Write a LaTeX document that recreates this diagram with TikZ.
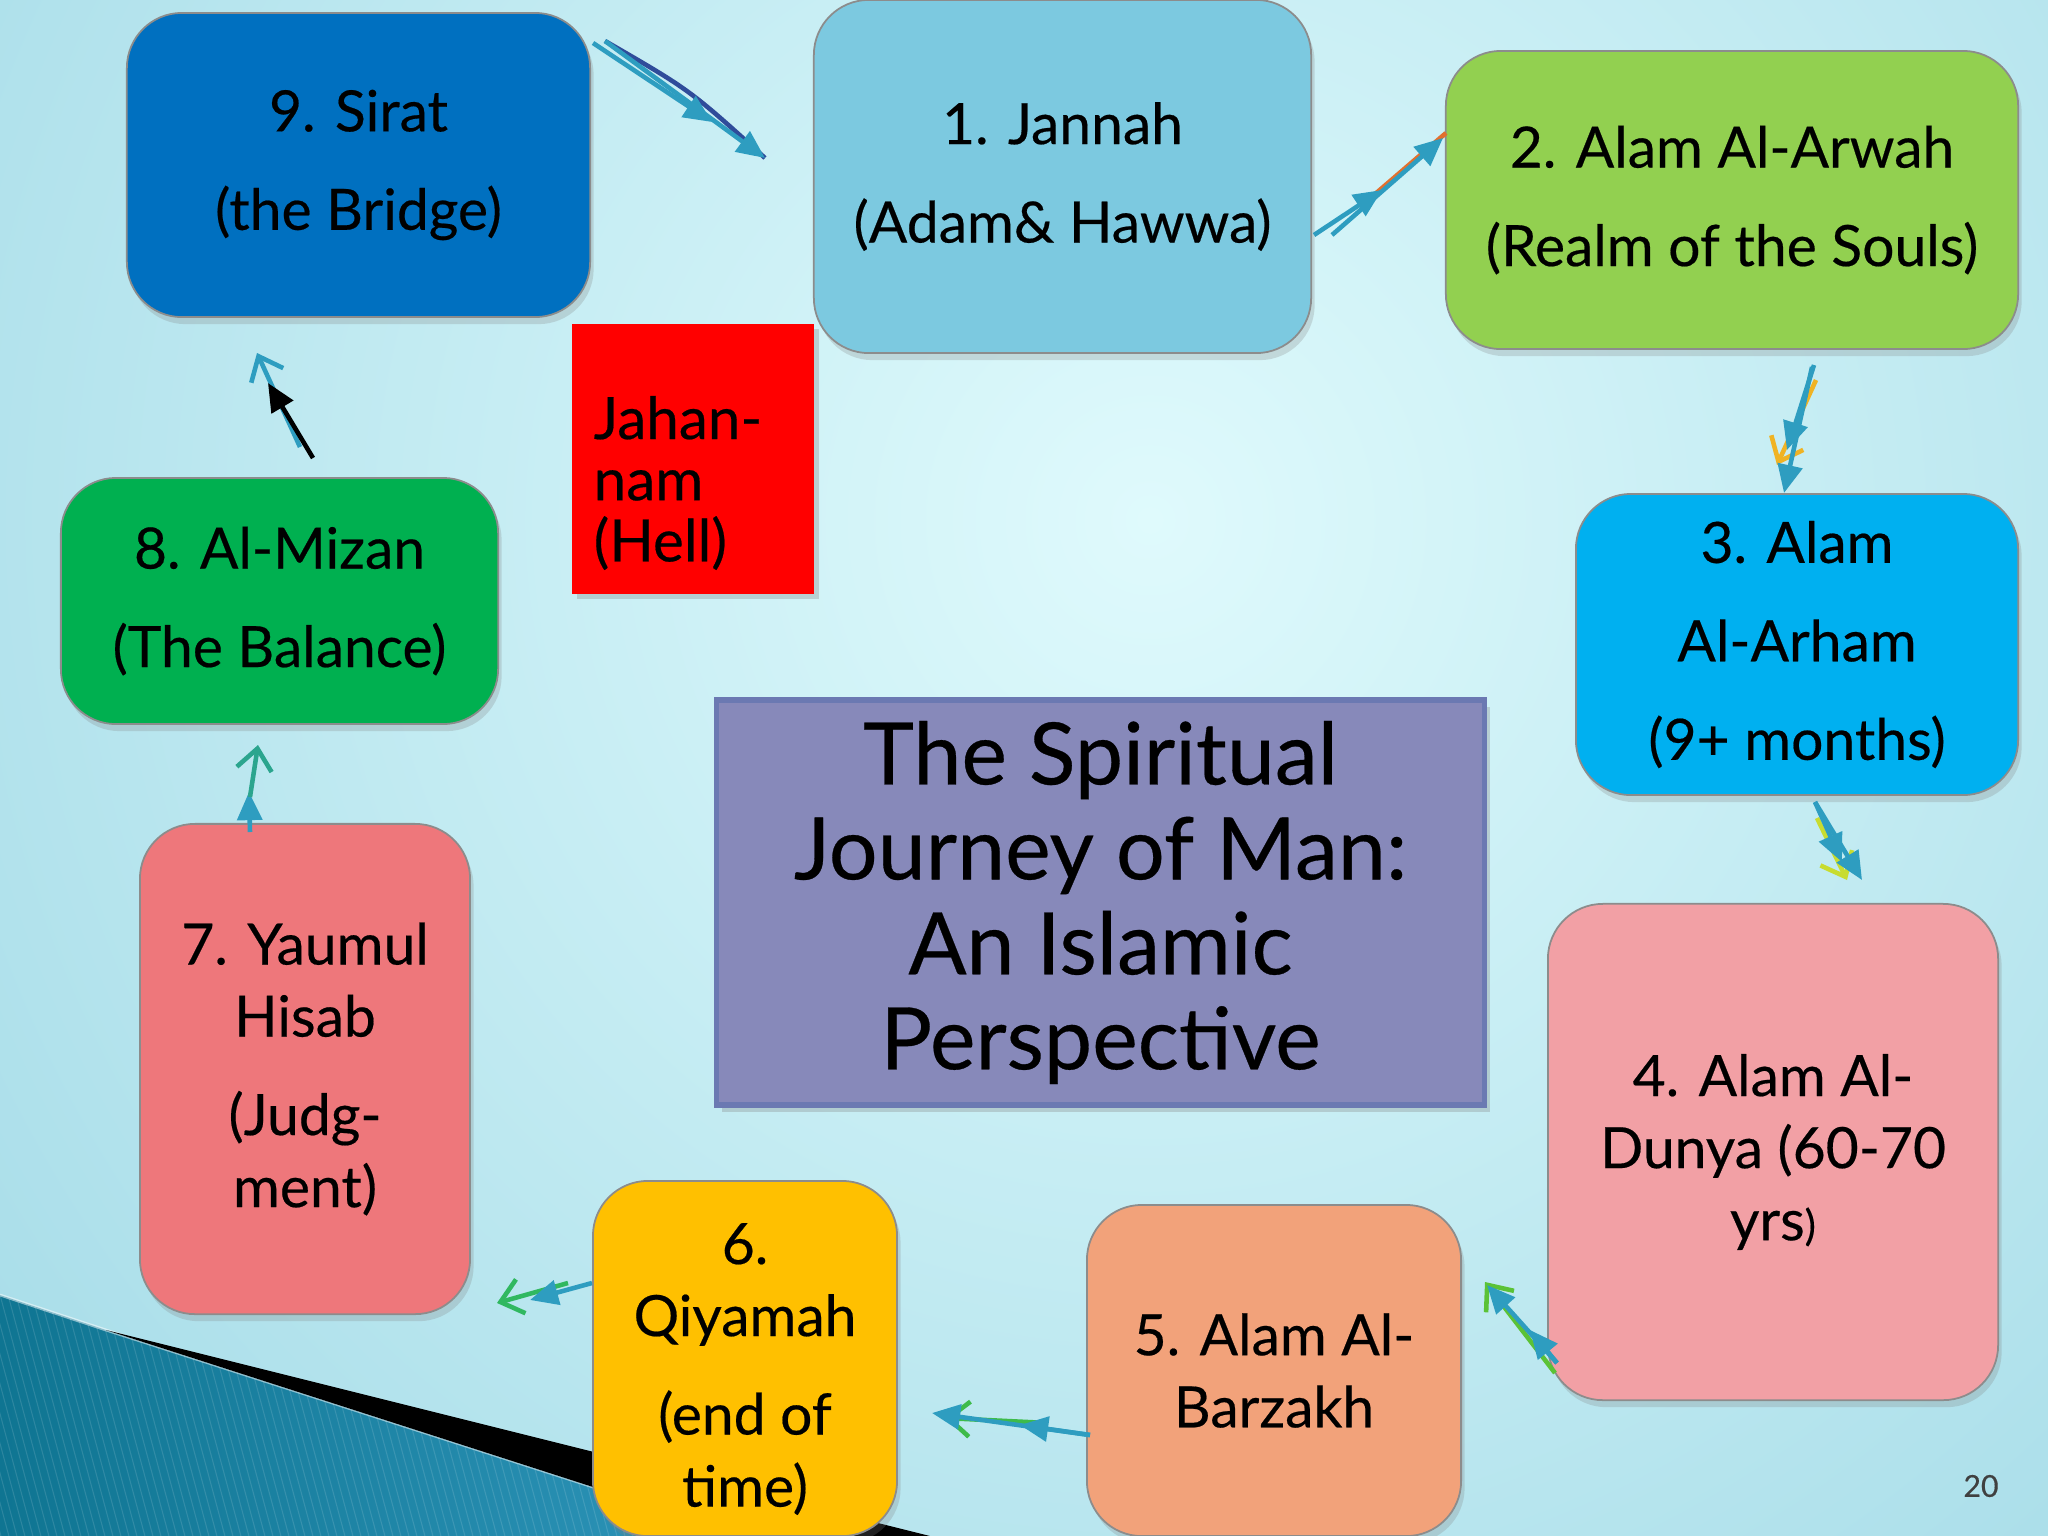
\documentclass[tikz,border=0pt]{standalone}
\usepackage{fontspec}
\setmainfont{Lato}[FakeBold=0.35]
\usetikzlibrary{arrows.meta,shadows}
\definecolor{bgIn}{HTML}{DFFAFC}
\definecolor{bgOut}{HTML}{A6DCE8}
\definecolor{cNine}{HTML}{0070C0}
\definecolor{cOne}{HTML}{7CC9E0}
\definecolor{cTwo}{HTML}{92D050}
\definecolor{cThree}{HTML}{00B0F0}
\definecolor{cFour}{HTML}{F2A0A5}
\definecolor{cFive}{HTML}{F2A27A}
\definecolor{cSix}{HTML}{FFC000}
\definecolor{cSeven}{HTML}{EE777B}
\definecolor{cEight}{HTML}{00B050}
\definecolor{cHell}{HTML}{FF0000}
\definecolor{cTitle}{HTML}{8789BA}
\definecolor{cTitleB}{HTML}{6B79B2}
\definecolor{arTeal}{HTML}{2E9DC0}
\definecolor{arNavy}{HTML}{2F4C9A}
\definecolor{arOrange}{HTML}{E2702E}
\definecolor{arYellow}{HTML}{F0B323}
\definecolor{arLime}{HTML}{C8DC30}
\definecolor{arGreen}{HTML}{5BC236}
\definecolor{arGreenB}{HTML}{3DBB4A}
\definecolor{arGreenC}{HTML}{30B860}
\definecolor{arSea}{HTML}{2BA58E}
\definecolor{wTealD}{HTML}{0F7592}
\definecolor{wTealM}{HTML}{5AB6D8}
\definecolor{wTealR}{HTML}{2E95BA}
\tikzset{
  box/.style={rounded corners=0.55cm, draw=black!45, line width=0.5pt, align=center,
    inner sep=0pt, font=\fontsize{16.2}{20.5}\selectfont,
    drop shadow={opacity=0.25, shadow xshift=1pt, shadow yshift=-2pt}},
  fhead/.style={line width=1.3pt, -{Triangle[length=8pt,width=7pt]}},
  ohead/.style={line width=1.3pt, -{Straight Barb[length=6pt,width=10pt]}},
  plainline/.style={line width=1.3pt}
}
\begin{document}
\begin{tikzpicture}[x=0.01cm,y=-0.01cm]
\useasboundingbox (0,0) rectangle (2048,1536);
% background
\begin{scope}
  \clip (0,0) rectangle (2048,1536);
  \shade[inner color=bgIn, outer color=bgOut] (1150,520) circle (1500);
  % bottom-left wedge
  \shade[left color=wTealD, middle color=wTealM, right color=wTealR]
    (0,1295) -- (106,1330) -- (745,1536) -- (0,1536) -- cycle;
  \begin{scope}
    \clip (0,1295) -- (106,1330) -- (745,1536) -- (0,1536) -- cycle;
    \foreach \k in {-100,-92,...,760}{
      \draw[white, opacity=0.12, line width=0.3pt] (\k,1280) -- (\k+70,1540);
    }
  \end{scope}
  \draw[white, opacity=0.5, line width=0.8pt] (0,1295) -- (106,1330) -- (745,1536);
  \fill[black] (106,1330) -- (930,1536) -- (745,1536) -- cycle;
\end{scope}

% boxes
\node[box, fill=cNine, minimum width=4.63cm, minimum height=3.04cm] (b9) at (358.5,165)
  {9. Sirat\\[7.5pt](the Bridge)};
\node[box, fill=cOne, minimum width=4.97cm, minimum height=3.53cm] (b1) at (1062.5,176.5)
  {1. Jannah\\[7.5pt](Adam\& Hawwa)};
\node[box, fill=cTwo, minimum width=5.72cm, minimum height=2.98cm] (b2) at (1732,200)
  {2. Alam Al-Arwah\\[7.5pt](Realm of the Souls)};
\node[box, fill=cThree, minimum width=4.42cm, minimum height=3.01cm] (b3) at (1797,644.5)
  {3. Alam\\[7.5pt]Al-Arham\\[7.5pt](9+ months)};
\node[box, fill=cFour, minimum width=4.50cm, minimum height=4.96cm] (b4) at (1773,1152)
  {4. Alam Al-\\Dunya (60-70\\yrs{\fontsize{12}{14}\selectfont)}};
\node[box, fill=cFive, minimum width=3.74cm, minimum height=3.31cm] (b5) at (1274,1370.5)
  {5. Alam Al-\\Barzakh};
\node[box, fill=cSix, minimum width=3.04cm, minimum height=3.55cm,
  label={[align=center, inner sep=0pt, font=\fontsize{16.2}{20.5}\selectfont, yshift=-3pt]center:{6.\\Qiyamah\\[7.5pt](end of\\time)}}] (b6) at (745,1358.5) {};
\node[box, fill=cSeven, minimum width=3.30cm, minimum height=4.90cm] (b7) at (305,1069)
  {7. Yaumul\\Hisab\\[7.5pt](Judg-\\ment)};
\node[box, fill=cEight, minimum width=4.37cm, minimum height=2.46cm] (b8) at (279.5,601)
  {8. Al-Mizan\\[7.5pt](The Balance)};
\node[fill=cHell, minimum width=2.42cm, minimum height=2.70cm, inner sep=0pt,
  drop shadow={opacity=0.3, shadow xshift=1.5pt, shadow yshift=-1.5pt}] (hell) at (693,459) {};
\node[anchor=west, align=left, inner sep=0pt, font=\fontsize{16.6}{17.4}\selectfont] (helltext) at (593,483)
  {Jahan-\\nam\\(Hell)};

% title
\node[fill=cTitle, draw=cTitleB, line width=1.5pt, minimum width=7.67cm, minimum height=4.05cm,
  inner sep=0pt, align=center, font=\fontsize{24.5}{27}\selectfont,
  drop shadow={opacity=0.3, shadow xshift=1.5pt, shadow yshift=-2pt}] (title) at (1100.5,902.5)
  {The Spiritual\\Journey of Man:\\An Islamic\\Perspective};

% page number
\node[font=\fontsize{8.6}{10}\selectfont, text=black!75, inner sep=0pt] (pnum) at (1981,1486) {20};

% connector end points
\coordinate (p9a) at (593,43);   \coordinate (p1a) at (712,122);
\coordinate (p9b) at (605,41);   \coordinate (p1b) at (765,158);
\coordinate (p1c) at (1314,235); \coordinate (p2c) at (1382,190);
\coordinate (p1d) at (1360,207); \coordinate (p2d) at (1446,133);
\coordinate (p1e) at (1332,235); \coordinate (p2e) at (1443,138);
\coordinate (p2f) at (1814,365); \coordinate (p3f) at (1787,450);
\coordinate (p2g) at (1816,380); \coordinate (p3g) at (1777,465);
\coordinate (p2h) at (1812,367); \coordinate (p3h) at (1784,493);
\coordinate (p3i) at (1817,818); \coordinate (p4i) at (1847,880);
\coordinate (p3j) at (1815,802); \coordinate (p4j) at (1842,862);
\coordinate (p4k) at (1862,880);
\coordinate (p4l) at (1555,1373); \coordinate (p5l) at (1485,1282);
\coordinate (p4m) at (1557,1363); \coordinate (p5m) at (1530,1330);
\coordinate (p5n) at (1487,1285);
\coordinate (p5o) at (1048,1423); \coordinate (p6o) at (945,1418);
\coordinate (p5p) at (1090,1435); \coordinate (p6p) at (1020,1425);
\coordinate (p6q) at (932,1413);
\coordinate (p6r) at (568,1283); \coordinate (p7r) at (497,1303);
\coordinate (p6s) at (592,1283); \coordinate (p7s) at (530,1300);
\coordinate (p7t) at (250,832);  \coordinate (p8t) at (249,792);
\coordinate (p7u) at (250,797);  \coordinate (p8u) at (258,745);
\coordinate (p8v) at (300,447);  \coordinate (p9v) at (257,353);
\coordinate (p8w) at (313,458);  \coordinate (p9w) at (268,383);

% connectors
\draw[plainline, arNavy] (p9b) .. controls (690,90) .. (p1b);
\draw[fhead, arTeal] (p9a) -- (p1a);
\draw[fhead, arTeal] (p9b) -- (p1b);

\draw[plainline, arOrange] (p1d) -- (p2d);
\draw[fhead, arTeal] (p1c) -- (p2c);
\draw[fhead, arTeal] (p1e) -- (p2e);

\draw[ohead, arYellow] (p2g) -- (p3g);
\draw[fhead, arTeal] (p2f) -- (p3f);
\draw[fhead, arTeal] (p2h) -- (p3h);

\draw[ohead, arLime] (p3i) -- (p4i);
\draw[fhead, arTeal] (p3j) -- (p4j);
\draw[fhead, arTeal] (p3j) -- (p4k);

\draw[ohead, arGreen] (p4l) -- (p5l);
\draw[fhead, arTeal] (p4m) -- (p5m);
\draw[fhead, arTeal] (p4m) -- (p5n);

\draw[ohead, arGreenB] (p5o) -- (p6o);
\draw[fhead, arTeal] (p5p) -- (p6p);
\draw[fhead, arTeal] (p5p) -- (p6q);

\draw[ohead, arGreenC] (p6r) -- (p7r);
\draw[fhead, arTeal] (p6s) -- (p7s);

\draw[fhead, arTeal] (p7t) -- (p8t);
\draw[ohead, arSea] (p7u) -- (p8u);

\draw[ohead, arTeal] (p8v) -- (p9v);
\draw[fhead, black] (p8w) -- (p9w);
\end{tikzpicture}
\end{document}
